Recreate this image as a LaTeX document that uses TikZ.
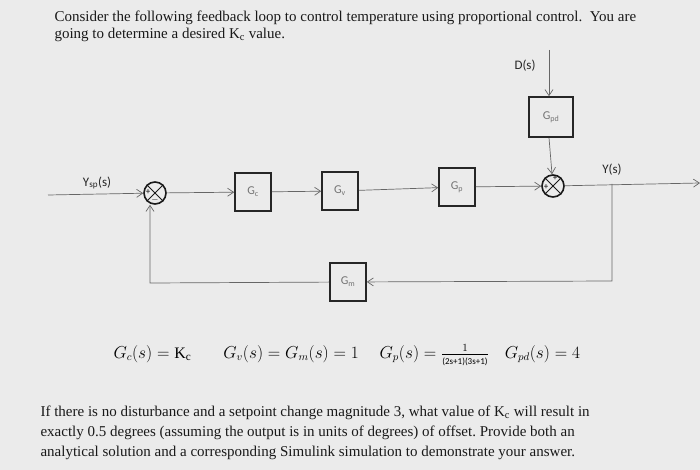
\documentclass[tikz,border=0pt]{standalone}
\usepackage{fontspec}
\setmainfont{Liberation Serif}
\newfontfamily\diag{Carlito}
\usetikzlibrary{arrows.meta}
\begin{document}
\begin{tikzpicture}[x=1pt,y=-1pt,
  blk/.style={draw=black!85,line width=1.6pt,minimum width=36pt,minimum height=38pt,font=\diag\fontsize{12}{14}\selectfont,text=black!55,inner sep=0pt},
  sumc/.style={draw=black!90,line width=1.6pt,circle,minimum size=22pt,inner sep=0pt},
  sig/.style={draw=black!60,line width=0.7pt,-{Straight Barb[length=6pt,width=8pt]}},
  lbl/.style={font=\diag\fontsize{13}{15}\selectfont,text=black!85},
  pm/.style={font=\diag\fontsize{9}{9}\selectfont,inner sep=0pt}]
\fill[black!8] (0,0) rectangle (700,470);
\useasboundingbox (0,0) rectangle (700,470);
\node[anchor=west,align=left,font=\fontsize{15}{17}\selectfont,text=black!90] (top) at (51,26) {Consider the following feedback loop to control temperature using proportional control.\ \ You are\\going to determine a desired K\textsubscript{c} value.};
\node[anchor=west,align=left,font=\fontsize{15}{20}\selectfont,text=black!90] (bot) at (37,433) {If there is no disturbance and a setpoint change magnitude 3, what value of K\textsubscript{c} will result in\\exactly 0.5 degrees (assuming the output is in units of degrees) of offset.\ Provide both an\\analytical solution and a corresponding Simulink simulation to demonstrate your answer.};
% blocks
\node[sumc] (s1) at (155,193) {};
\draw[black!90,line width=0.9pt] (s1.45)--(s1.225) (s1.135)--(s1.315);
\node[pm] at (148,192) {+};
\node[pm] at (155,200) {$-$};
\node[blk] (gc) at (253,192) {G\textsubscript{c}};
\node[blk] (gv) at (340,191) {G\textsubscript{v}};
\node[blk] (gp) at (457,187) {G\textsubscript{p}};
\node[blk,minimum width=44pt,minimum height=40pt] (gpd) at (551,117) {G\textsubscript{pd}};
\node[sumc] (s2) at (553,186) {};
\draw[black!90,line width=0.9pt] (s2.45)--(s2.225) (s2.135)--(s2.315);
\node[pm] at (546,187) {+};
\node[pm] at (555,178) {+};
\node[blk] (gm) at (348,282) {G\textsubscript{m}};
\coordinate (in) at (48,195);
\coordinate (ds) at (549,50);
\coordinate (out) at (700,183);
\coordinate (br) at (612,184);
\coordinate (br2) at (612,281);
\coordinate (fb) at (150,283);
\draw[sig] (in) -- (s1);
\draw[sig] (s1) -- (gc);
\draw[sig] (gc) -- (gv);
\draw[sig] (gv) -- (gp);
\draw[sig] (gp) -- (s2);
\draw[sig] (ds) -- (gpd.north -| ds);
\draw[sig] (gpd.south -| ds) -- (s2);
\draw[sig] (s2) -- (out);
\draw[sig] (br) -- (br2) -- (gm);
\draw[sig] (gm) -- (fb) -- (fb |- s1.south);
\node[lbl] (ysp) at (97,183) {Y\textsubscript{sp}(s)};
\node[lbl] (dl) at (525,66) {D(s)};
\node[lbl] (yl) at (612,170) {Y(s)};
% equations
\node[anchor=west,font=\fontsize{16}{20}\selectfont] (eq) at (110,355) {$G_c(s)=\mathrm{K_c}$\hspace{2em}$G_v(s)=G_m(s)=1$\hspace{1.3em}$G_p(s)=\frac{1}{\mbox{\diag\fontsize{9}{10}\selectfont(2s+1)(3s+1)}}$\hspace{1em}$G_{pd}(s)=4$};
\end{tikzpicture}
\end{document}
